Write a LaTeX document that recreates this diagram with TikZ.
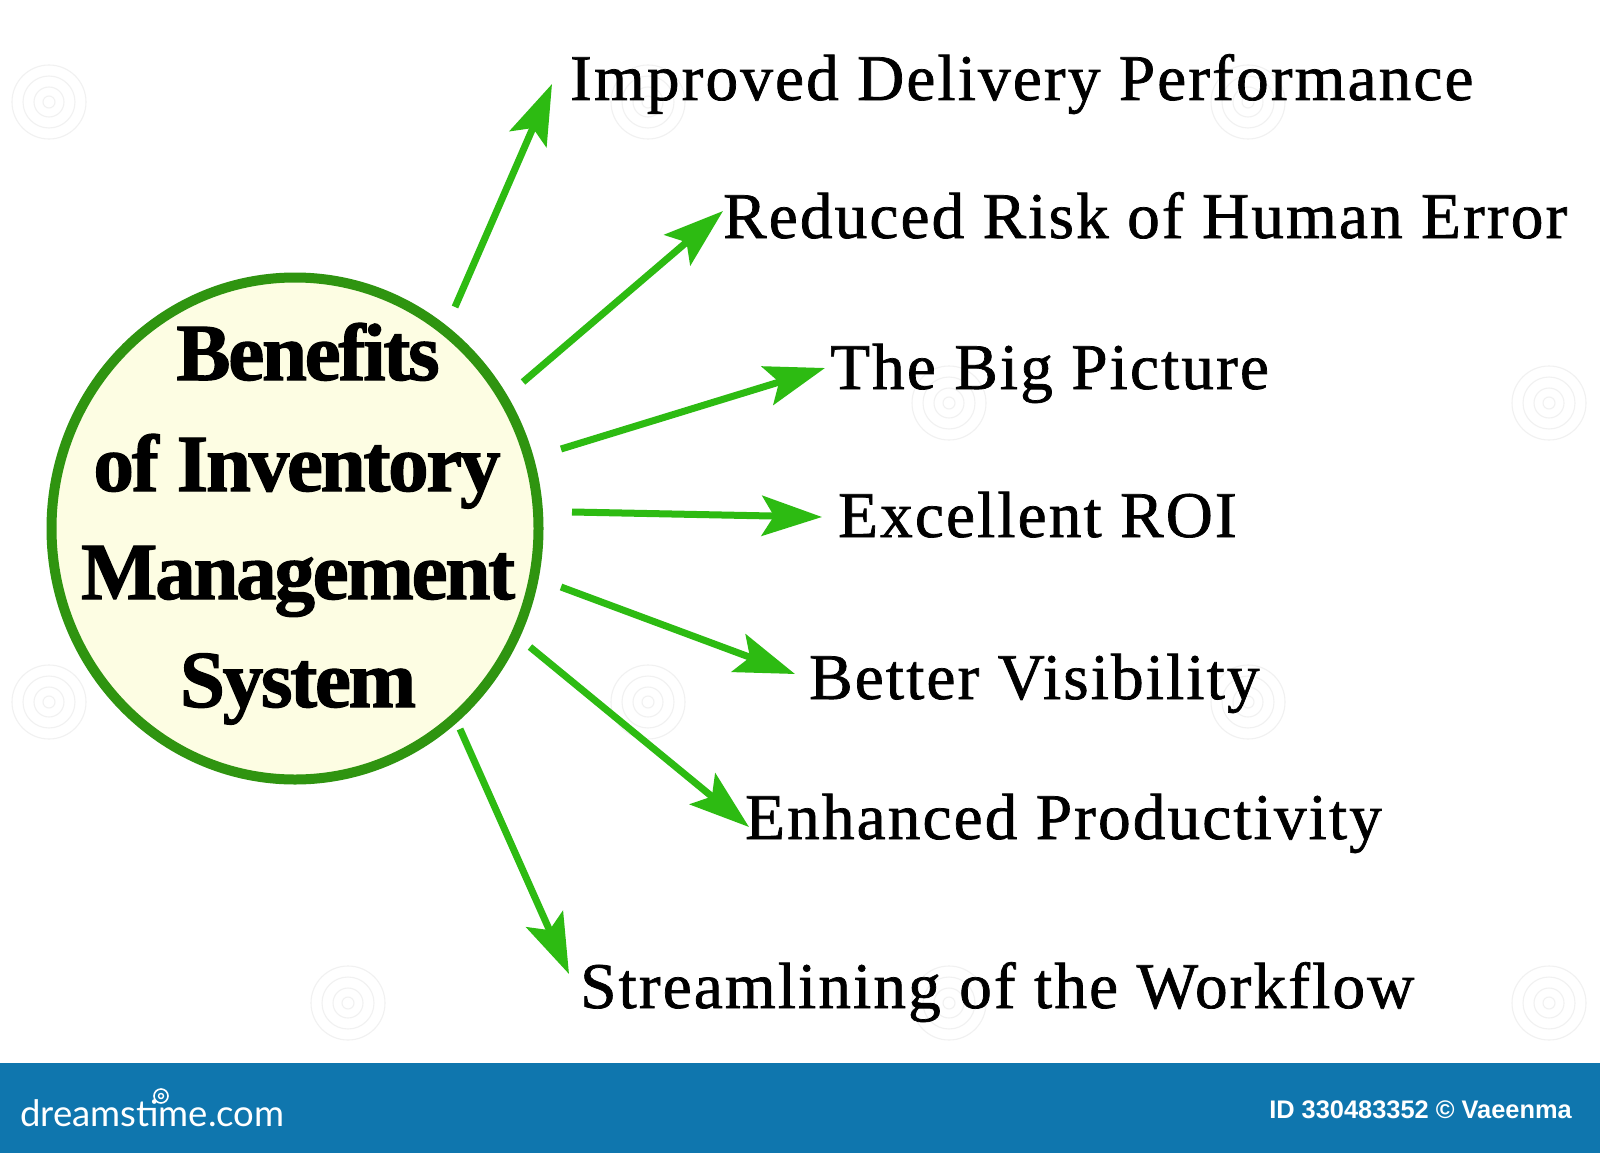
\documentclass[tikz,border=0pt]{standalone}
\usepackage{fontspec}
\setmainfont{Liberation Serif}
\newfontfamily\labelfont[LetterSpace=3.3,FakeBold=1.1]{Liberation Serif}
\newfontfamily\titlefont[LetterSpace=-2.8,FakeBold=1.5]{Liberation Serif Bold}
\newfontfamily\brandfont{Lato}
\newfontfamily\idfont{Liberation Sans Bold}
\usetikzlibrary{arrows.meta,shapes.geometric}
\definecolor{arrowgreen}{HTML}{2DBB12}
\definecolor{ringgreen}{HTML}{2F9410}
\definecolor{disc}{HTML}{FDFDE3}
\definecolor{banner}{HTML}{0F76AE}
\definecolor{wm}{HTML}{F1F1F1}
\tikzset{
  x=1pt,y=-1pt,
  benefit/.style={anchor=base west,inner sep=0pt,text=black,font=\fontsize{65.2}{65}\selectfont\labelfont},
  heading/.style={anchor=base,inner sep=0pt,text=black,font=\fontsize{81}{81}\selectfont\titlefont},
  link/.style={draw=arrowgreen,line width=7pt,line cap=butt,-{Stealth[length=60pt,width=40pt,inset=12pt,fill=arrowgreen]}},
  wmring/.style={draw=wm,line width=1.1pt,fill=none},
}
\begin{document}
\begin{tikzpicture}
\useasboundingbox (0,0) rectangle (1600,1153);
\fill[white] (0,0) rectangle (1600,1153);
% watermark
\foreach \wx/\wy in {49/102,648/102,1248/102,348/403,949/403,1549/403,49/702,648/702,1248/702,348/1003,949/1003,1549/1003}{
  \foreach \wr in {37,26,15,6}{\draw[wmring] (\wx,\wy) circle[radius=\wr];}
}
% central disc
\node[ellipse,draw=ringgreen,fill=disc,line width=10pt,minimum width=487pt,minimum height=502pt,inner sep=0pt] (hub) at (295,528.5) {};
\node[heading] (h1) at (308,380) {Benefits};
\node[heading] (h2) at (297,491) {of Inventory};
\node[heading] (h3) at (298,599) {Management};
\node[heading] (h4) at (298,707) {System};
% benefits
\node[benefit] (b1) at (570,100) {Improved Delivery Performance};
\node[benefit] (b2) at (723,238) {Reduced Risk of Human Error};
\node[benefit] (b3) at (830,389) {The Big Picture};
\node[benefit] (b4) at (838,537) {Excellent ROI};
\node[benefit] (b5) at (809,699) {Better Visibility};
\node[benefit] (b6) at (745,839) {Enhanced Productivity};
\node[benefit] (b7) at (580,1008) {Streamlining of the Workflow};
% connector ends
\coordinate (s1) at (455,307); \coordinate (t1) at (552,84);
\coordinate (s2) at (523,382); \coordinate (t2) at (723,211);
\coordinate (s3) at (561,449); \coordinate (t3) at (825,368);
\coordinate (s4) at (572,512); \coordinate (t4) at (822,517);
\coordinate (s5) at (561,587); \coordinate (t5) at (795,674);
\coordinate (s6) at (530,647); \coordinate (t6) at (749,827);
\coordinate (s7) at (460,729); \coordinate (t7) at (569,974);
\foreach \k in {1,...,7}{\draw[link] (s\k) -- (t\k);}
% banner
\fill[banner] (0,1063) rectangle (1600,1153);
\node[anchor=base west,inner sep=0pt,text=white,font=\fontsize{36.5}{36}\selectfont\brandfont] (brand) at (20,1126) {dreamstime.com};
\node[anchor=base east,inner sep=0pt,text=white,font=\fontsize{25.4}{25.4}\selectfont\idfont] (idtag) at (1572,1118) {ID 330483352 © Vaeenma};
\draw[white,line width=1.6pt] (161,1096) circle[radius=7];
\draw[white,line width=1.4pt] (161,1096) circle[radius=2.5];
\end{tikzpicture}
\end{document}
